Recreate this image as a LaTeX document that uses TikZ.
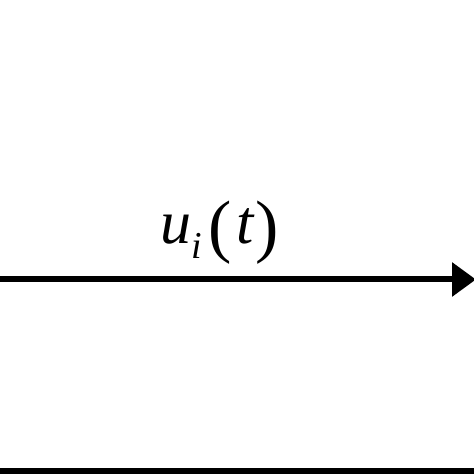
\documentclass[tikz,border=0pt]{standalone}
\usepackage{fontspec}
\setmainfont{Liberation Serif}[ItalicFont={Liberation Serif Italic}]
\usetikzlibrary{arrows.meta}
\tikzset{
  thick line/.style={line width=6pt, black},
  label text/.style={inner sep=0pt, anchor=base west}
}
\begin{document}
\begin{tikzpicture}[x=1pt,y=1pt]
\useasboundingbox (0,0) rectangle (474,474);
\coordinate (a1) at (-2,194.5);
\coordinate (a2) at (476,194.5);
\coordinate (b1) at (-2,3);
\coordinate (b2) at (476,3);
\draw[thick line, -{Triangle[length=24pt,width=33pt]}] (a1) -- (a2);
\draw[thick line] (b1) -- (b2);
\node[label text] (lbl) at (160,230) {\fontsize{62}{64}\selectfont\itshape u\kern0pt\raisebox{-15pt}{\fontsize{38}{40}\selectfont i}\kern7pt\raisebox{-6pt}{\fontsize{70}{72}\selectfont\upshape (}\kern4pt t\kern2pt\raisebox{-6pt}{\fontsize{70}{72}\selectfont\upshape )}};
\end{tikzpicture}
\end{document}
